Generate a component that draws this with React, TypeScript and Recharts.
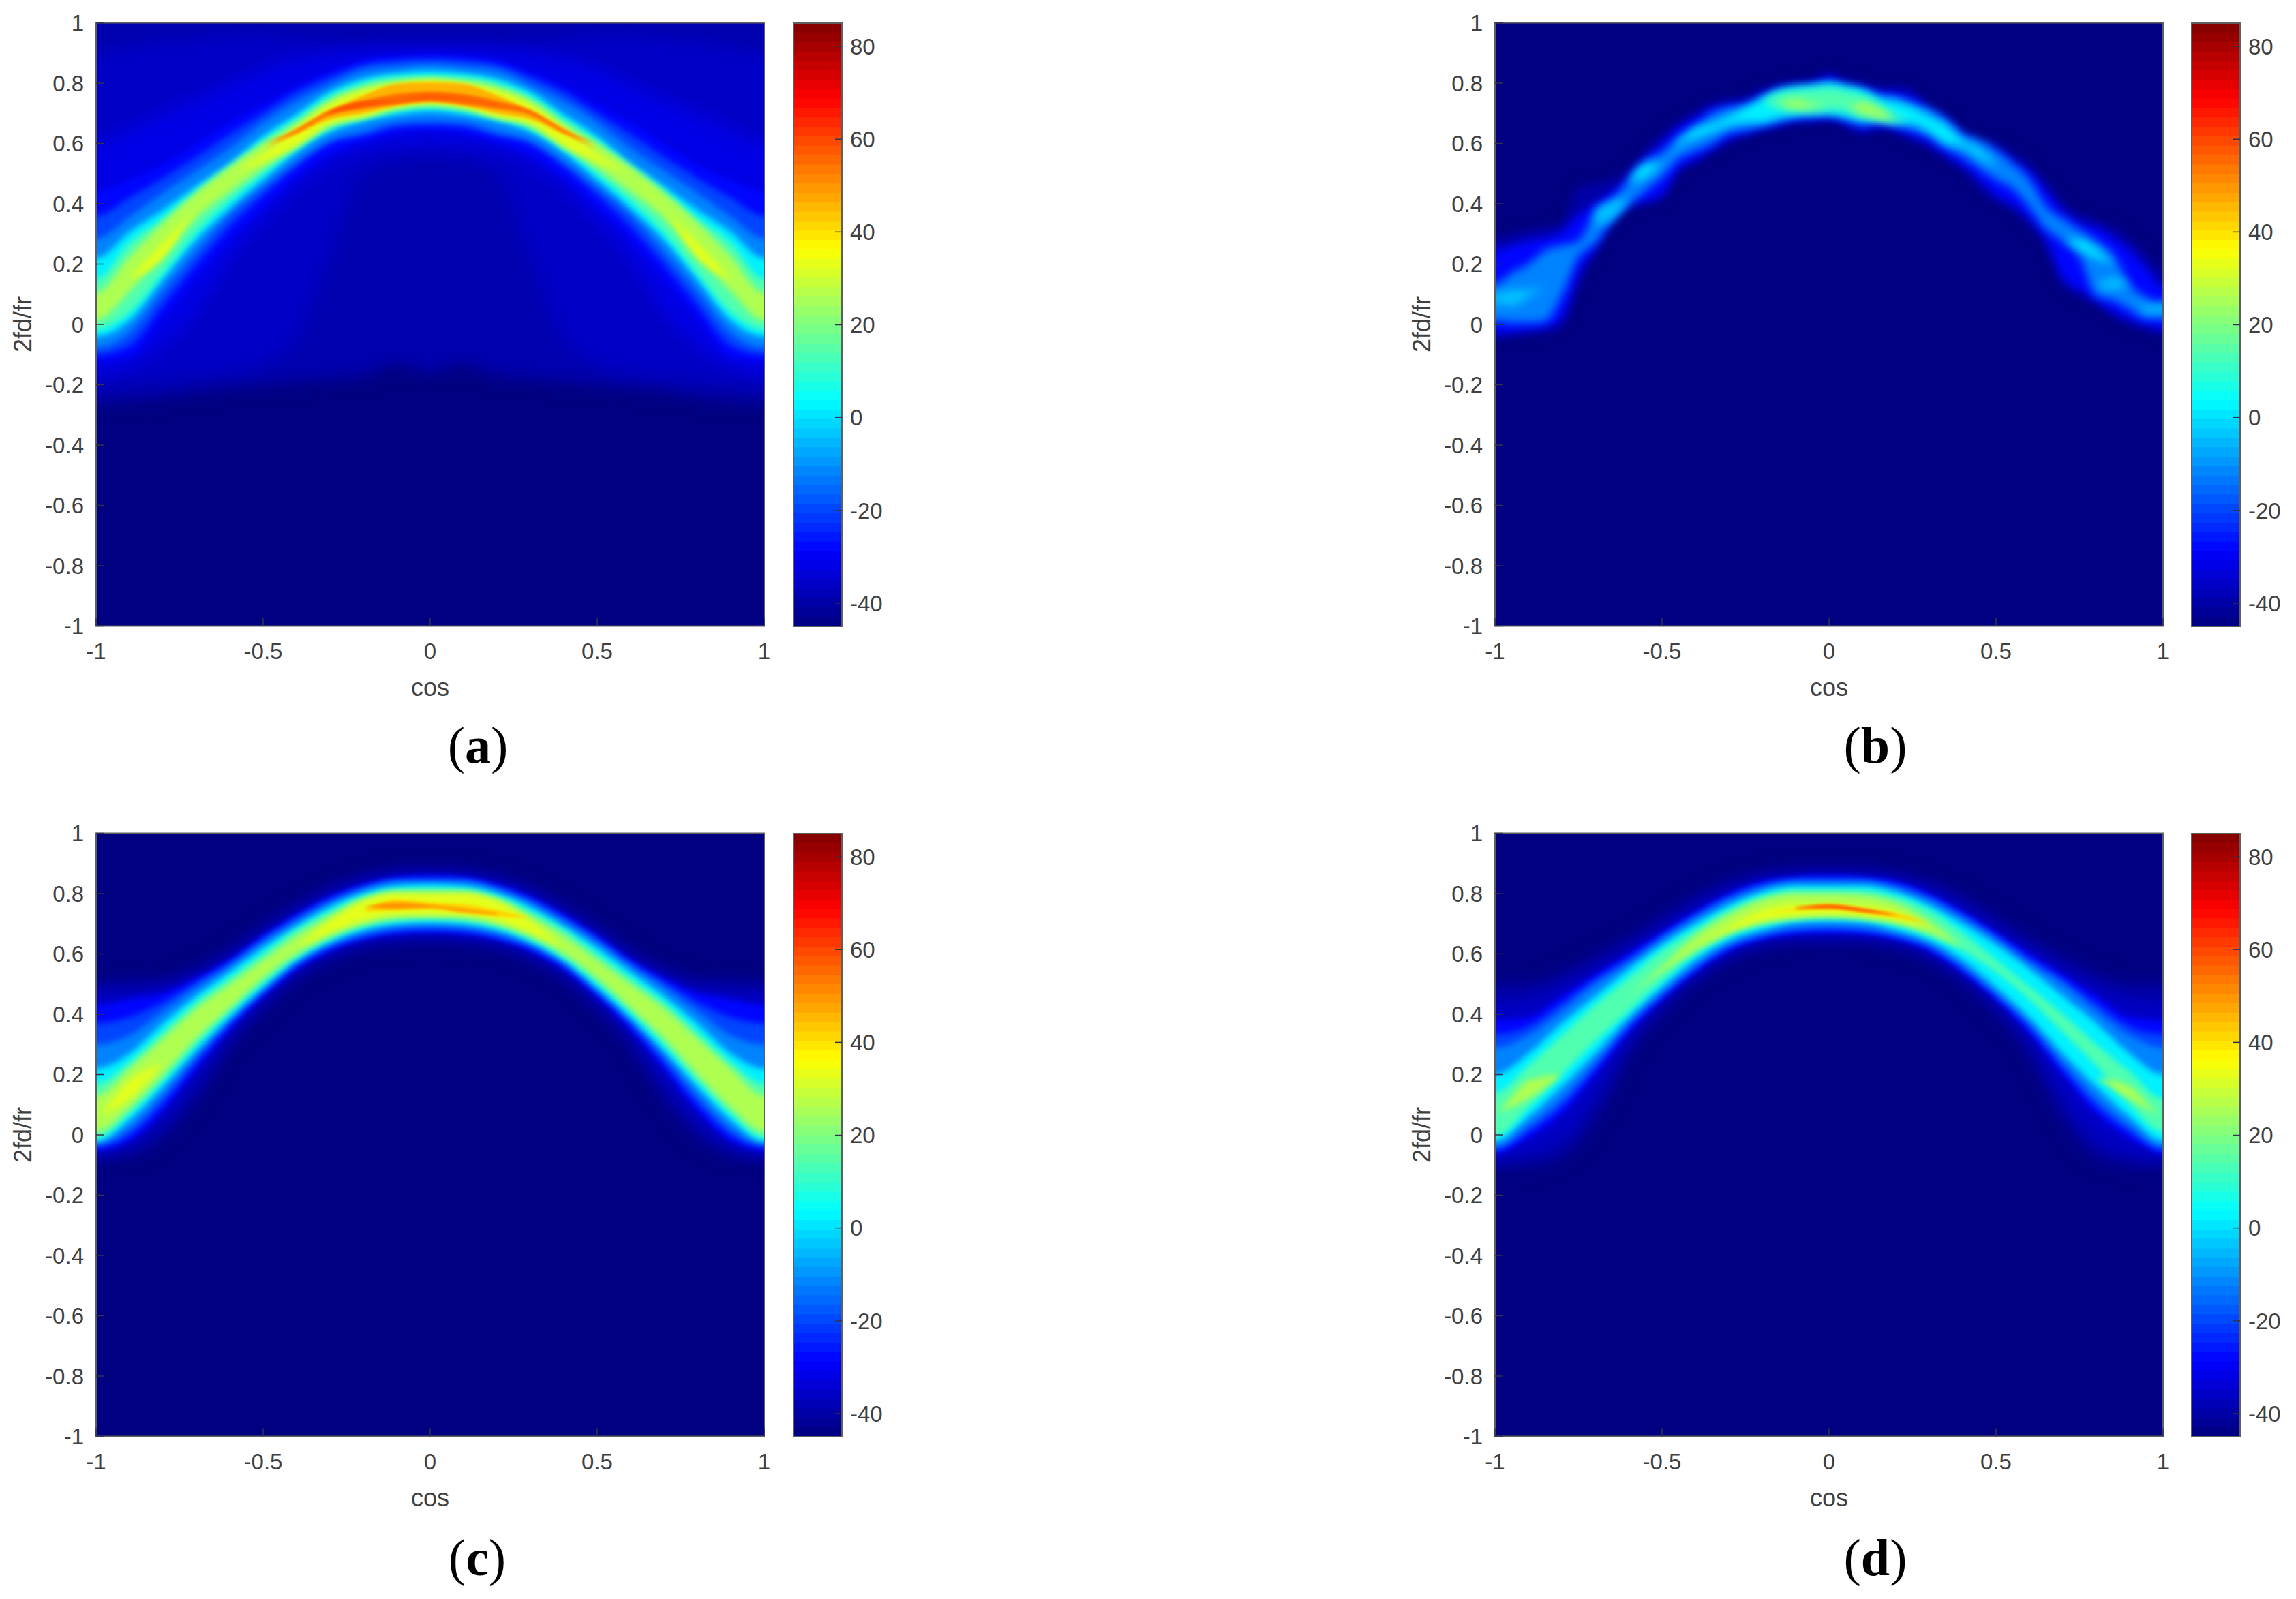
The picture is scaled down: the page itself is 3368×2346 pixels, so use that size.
import React from "react";
import { Area, AreaChart, ReferenceArea, XAxis, YAxis } from "recharts";

const n = null;

const cosTicks = [-1, -0.5, 0, 0.5, 1];
const fdTicks = [-1, -0.8, -0.6, -0.4, -0.2, 0, 0.2, 0.4, 0.6, 0.8, 1];
const barTicks = [-40, -20, 0, 20, 40, 60, 80];

// colorbar steps (64 level jet, -45..85)
const barEdges = [
  -45, -42.97, -40.94, -38.91, -36.88, -34.84, -32.81, -30.78, -28.75, -26.72, -24.69, -22.66, -20.63, -18.59, -16.56,
  -14.53, -12.5, -10.47, -8.44, -6.41, -4.38, -2.34, -0.31, 1.72, 3.75, 5.78, 7.81, 9.84, 11.88, 13.91, 15.94, 17.97,
  20, 22.03, 24.06, 26.09, 28.13, 30.16, 32.19, 34.22, 36.25, 38.28, 40.31, 42.34, 44.38, 46.41, 48.44, 50.47, 52.5,
  54.53, 56.56, 58.59, 60.63, 62.66, 64.69, 66.72, 68.75, 70.78, 72.81, 74.84, 76.88, 78.91, 80.94, 82.97,
];

// cos positions the contours were read at
const cos21 = [-1, -0.9, -0.8, -0.7, -0.6, -0.5, -0.4, -0.3, -0.2, -0.1, 0, 0.1, 0.2, 0.3, 0.4, 0.5, 0.6, 0.7, 0.8, 0.9, 1];
const cos41 = [
  -1, -0.95, -0.9, -0.85, -0.8, -0.75, -0.7, -0.65, -0.6, -0.55, -0.5, -0.45, -0.4, -0.35, -0.3, -0.25, -0.2, -0.15,
  -0.1, -0.05, 0, 0.05, 0.1, 0.15, 0.2, 0.25, 0.3, 0.35, 0.4, 0.45, 0.5, 0.55, 0.6, 0.65, 0.7, 0.75, 0.8, 0.85, 0.9,
  0.95, 1,
];

// panel (a): lower and upper edge of each contour level, in 2fd/fr
const aLo40 = [-0.26, -0.25, -0.24, -0.22, -0.21, -0.2, -0.19, -0.18, -0.17, -0.13, -0.16, -0.13, -0.17, -0.18, -0.19, -0.2, -0.21, -0.22, -0.24, -0.25, -0.26];
const aHi40 = [1.2, 1.2, 1.2, 1.2, 1.2, 1.2, 1.2, 1.2, 1.2, 1.2, 1.2, 1.2, 1.2, 1.2, 1.2, 1.2, 1.2, 1.2, 1.2, 1.2, 1.2];
const aLo36 = [-0.2, -0.19, -0.18, -0.17, -0.16, -0.13, -0.05, 0.22, 0.5, 0.545, 0.556, 0.545, 0.5, 0.22, -0.05, -0.13, -0.16, -0.17, -0.18, -0.19, -0.2];
const aHi36 = [0.9, 0.92, 0.94, 0.95, 0.96, 0.96, 0.95, 0.94, 0.93, 0.93, 0.93, 0.93, 0.93, 0.94, 0.95, 0.96, 0.96, 0.95, 0.94, 0.92, 0.9];
const aLo32 = [-0.16, -0.14, -0.07, 0.04, 0.215, 0.34, 0.45, 0.53, 0.575, 0.595, 0.6, 0.595, 0.575, 0.53, 0.45, 0.34, 0.215, 0.04, -0.07, -0.14, -0.16];
const aHi32 = [0.6, 0.65, 0.7, 0.75, 0.8, 0.85, 0.88, 0.9, 0.91, 0.915, 0.915, 0.915, 0.91, 0.9, 0.88, 0.85, 0.8, 0.75, 0.7, 0.65, 0.6];
const aLo28 = [-0.12, -0.107, 0.025, 0.157, 0.285, 0.39, 0.49, 0.565, 0.605, 0.635, 0.647, 0.635, 0.605, 0.565, 0.49, 0.39, 0.285, 0.157, 0.025, -0.107, -0.12];
const aHi28 = [0.44, 0.48, 0.53, 0.6, 0.67, 0.73, 0.79, 0.835, 0.877, 0.89, 0.896, 0.89, 0.877, 0.835, 0.79, 0.73, 0.67, 0.6, 0.53, 0.48, 0.44];
const aLo20 = [-0.1, -0.07, 0.065, 0.2, 0.325, 0.43, 0.525, 0.6, 0.625, 0.655, 0.66, 0.655, 0.625, 0.6, 0.525, 0.43, 0.325, 0.2, 0.065, -0.07, -0.1];
const aHi20 = [0.36, 0.42, 0.485, 0.555, 0.63, 0.7, 0.77, 0.82, 0.86, 0.875, 0.88, 0.875, 0.86, 0.82, 0.77, 0.7, 0.63, 0.555, 0.485, 0.42, 0.36];
const aLo12 = [-0.077, -0.028, 0.108, 0.24, 0.364, 0.455, 0.54, 0.61, 0.64, 0.67, 0.677, 0.67, 0.64, 0.61, 0.54, 0.455, 0.364, 0.24, 0.108, -0.028, -0.077];
const aHi12 = [0.285, 0.357, 0.436, 0.51, 0.585, 0.67, 0.74, 0.795, 0.843, 0.855, 0.862, 0.855, 0.843, 0.795, 0.74, 0.67, 0.585, 0.51, 0.436, 0.357, 0.285];
const aLoP2 = [-0.04, 0.013, 0.149, 0.281, 0.385, 0.48, 0.572, 0.64, 0.674, 0.696, 0.707, 0.696, 0.674, 0.64, 0.572, 0.48, 0.385, 0.281, 0.149, 0.013, -0.04];
const aHiP2 = [0.22, 0.307, 0.38, 0.459, 0.534, 0.625, 0.696, 0.771, 0.813, 0.832, 0.84, 0.832, 0.813, 0.771, 0.696, 0.625, 0.534, 0.459, 0.38, 0.307, 0.22];
const aLoP14 = [-0.017, 0.04, 0.17, 0.305, 0.41, 0.5, 0.585, 0.65, 0.685, 0.708, 0.72, 0.708, 0.685, 0.65, 0.585, 0.5, 0.41, 0.305, 0.17, 0.04, -0.017];
const aHiP14 = [0.15, 0.27, 0.35, 0.43, 0.51, 0.605, 0.68, 0.755, 0.8, 0.82, 0.822, 0.82, 0.8, 0.755, 0.68, 0.605, 0.51, 0.43, 0.35, 0.27, 0.15];
const aLoP26 = [0.014, 0.11, 0.232, 0.353, 0.44, 0.52, 0.59, 0.66, 0.69, 0.72, 0.728, 0.72, 0.69, 0.66, 0.59, 0.52, 0.44, 0.353, 0.232, 0.11, 0.014];
const aHiP26 = [0.105, 0.225, 0.338, 0.44, 0.525, 0.6, 0.665, 0.74, 0.785, 0.805, 0.815, 0.805, 0.785, 0.74, 0.665, 0.6, 0.525, 0.44, 0.338, 0.225, 0.105];
const aLoP33 = [n, 0.15, 0.22, 0.38, 0.49, 0.54, 0.594, 0.666, 0.688, 0.72, 0.734, 0.72, 0.688, 0.666, 0.594, 0.54, 0.49, 0.38, 0.22, 0.15, n];
const aHiP33 = [n, 0.15, 0.27, 0.38, 0.49, 0.565, 0.65, 0.73, 0.775, 0.798, 0.808, 0.798, 0.775, 0.73, 0.65, 0.565, 0.49, 0.38, 0.27, 0.15, n];
const aLoP46 = [n, n, n, n, n, 0.58, 0.63, 0.68, 0.7, 0.725, 0.737, 0.725, 0.7, 0.68, 0.63, 0.58, n, n, n, n, n];
const aHiP46 = [n, n, n, n, n, 0.58, 0.65, 0.71, 0.76, 0.798, 0.803, 0.798, 0.76, 0.71, 0.65, 0.58, n, n, n, n, n];
const aLoP55 = [n, n, n, n, n, 0.6, 0.637, 0.695, 0.715, 0.73, 0.741, 0.73, 0.715, 0.695, 0.637, 0.6, n, n, n, n, n];
const aHiP55 = [n, n, n, n, n, 0.6, 0.645, 0.71, 0.741, 0.764, 0.772, 0.764, 0.741, 0.71, 0.645, 0.6, n, n, n, n, n];
const aLoP58 = [n, n, n, n, n, n, n, 0.7, 0.722, 0.74, 0.75, 0.745, 0.725, n, n, n, n, n, n, n, n];
const aHiP58 = [n, n, n, n, n, n, n, 0.705, 0.74, 0.745, 0.76, 0.75, 0.73, n, n, n, n, n, n, n, n];

// panel (b)
const bLo40 = [-0.048, -0.04, -0.032, -0.029, -0.01, 0.126, 0.232, 0.33, 0.382, 0.397, 0.416, 0.51, 0.533, 0.57, 0.604, 0.623, 0.642, 0.656, 0.668, 0.672, 0.675, 0.658, 0.632, 0.646, 0.635, 0.609, 0.586, 0.544, 0.51, 0.45, 0.405, 0.382, 0.33, 0.254, 0.126, 0.096, 0.066, 0.028, -0.002, -0.017, -0.032];
const bHi40 = [0.292, 0.3, 0.314, 0.322, 0.337, 0.457, 0.469, 0.48, 0.518, 0.574, 0.63, 0.672, 0.7, 0.737, 0.745, 0.752, 0.782, 0.8, 0.808, 0.812, 0.84, 0.815, 0.804, 0.79, 0.793, 0.782, 0.725, 0.695, 0.646, 0.616, 0.605, 0.57, 0.533, 0.473, 0.405, 0.367, 0.345, 0.322, 0.284, 0.232, 0.171];
const bLo28 = [-0.029, -0.025, -0.017, -0.01, 0.02, 0.171, 0.254, 0.352, 0.4, 0.41, 0.431, 0.518, 0.549, 0.585, 0.616, 0.635, 0.652, 0.664, 0.676, 0.68, 0.683, 0.669, 0.647, 0.658, 0.647, 0.624, 0.601, 0.563, 0.529, 0.48, 0.428, 0.397, 0.352, 0.284, 0.156, 0.115, 0.081, 0.043, 0.017, -0.002, -0.014];
const bHi28 = [0.246, 0.262, 0.277, 0.288, 0.307, 0.363, 0.4, 0.44, 0.48, 0.55, 0.6, 0.654, 0.687, 0.717, 0.729, 0.737, 0.763, 0.782, 0.79, 0.798, 0.82, 0.793, 0.786, 0.771, 0.767, 0.755, 0.71, 0.677, 0.627, 0.597, 0.578, 0.54, 0.505, 0.443, 0.375, 0.337, 0.322, 0.288, 0.247, 0.186, 0.126];
const bLo12 = [0.013, 0.005, 0.005, 0.01, 0.096, 0.224, 0.27, 0.345, 0.397, 0.443, 0.49, 0.55, 0.575, 0.6, 0.635, 0.645, 0.66, 0.675, 0.687, 0.69, 0.695, 0.68, 0.661, 0.67, 0.66, 0.646, 0.623, 0.586, 0.556, 0.518, 0.48, 0.45, 0.39, 0.315, 0.277, 0.224, 0.096, 0.08, 0.05, 0.02, 0.02];
const bHi12 = [0.133, 0.171, 0.2, 0.246, 0.262, 0.277, 0.37, 0.41, 0.478, 0.54, 0.57, 0.617, 0.655, 0.7, 0.72, 0.725, 0.747, 0.775, 0.787, 0.79, 0.8, 0.786, 0.774, 0.759, 0.752, 0.733, 0.714, 0.68, 0.631, 0.612, 0.578, 0.533, 0.48, 0.39, 0.35, 0.314, 0.277, 0.232, 0.133, 0.088, 0.073];
const bLoM4 = [0.07, 0.06, 0.09, 0.12, n, n, 0.33, 0.35, 0.42, n, n, n, n, n, n, n, n, n, n, n, n, n, n, n, n, n, n, n, n, n, n, n, n, n, n, n, 0.13, 0.115, 0.13, 0.04, 0.04];
const bHiM4 = [0.1, 0.115, 0.115, 0.12, n, n, 0.38, 0.41, 0.42, n, n, n, n, n, n, n, n, n, n, n, n, n, n, n, n, n, n, n, n, n, n, n, n, n, n, n, 0.13, 0.155, 0.13, 0.06, 0.065];
const bLoP2 = [n, n, n, n, n, n, n, n, 0.47, 0.49, 0.535, 0.595, 0.62, 0.64, 0.66, 0.67, 0.67, 0.685, 0.695, 0.7, 0.7, 0.69, 0.68, 0.68, 0.67, 0.665, 0.64, 0.6, 0.59, 0.555, 0.525, n, n, n, 0.28, 0.25, 0.22, 0.2, n, n, n];
const bHiP2 = [n, n, n, n, n, n, n, n, 0.47, 0.53, 0.535, 0.61, 0.65, 0.665, 0.69, 0.72, 0.75, 0.775, 0.785, 0.79, 0.8, 0.79, 0.78, 0.75, 0.74, 0.72, 0.69, 0.66, 0.61, 0.58, 0.53, n, n, n, 0.28, 0.28, 0.25, 0.2, n, n, n];
const bLoP14 = [n, n, n, n, n, n, n, n, n, n, n, n, n, n, n, n, 0.74, 0.715, 0.71, 0.71, 0.712, 0.71, 0.69, 0.68, 0.672, 0.68, n, n, n, n, n, n, n, n, n, n, n, n, n, n, n];
const bHiP14 = [n, n, n, n, n, n, n, n, n, n, n, n, n, n, n, n, 0.74, 0.765, 0.775, 0.78, 0.785, 0.775, 0.76, 0.73, 0.69, 0.68, n, n, n, n, n, n, n, n, n, n, n, n, n, n, n];
const bLoP26 = [n, n, n, n, n, n, n, n, n, n, n, n, n, n, n, n, n, 0.735, 0.715, 0.715, 0.72, 0.715, 0.7, 0.685, 0.68, n, n, n, n, n, n, n, n, n, n, n, n, n, n, n, n];
const bHiP26 = [n, n, n, n, n, n, n, n, n, n, n, n, n, n, n, n, n, 0.735, 0.745, 0.73, 0.72, 0.715, 0.735, 0.715, 0.68, n, n, n, n, n, n, n, n, n, n, n, n, n, n, n, n];

// panel (c)
const cLo40 = [-0.075, -0.06, 0, 0.13, 0.31, 0.43, 0.53, 0.59, 0.625, 0.64, 0.645, 0.64, 0.625, 0.59, 0.53, 0.43, 0.31, 0.13, 0, -0.06, -0.075];
const cHi40 = [0.5, 0.505, 0.51, 0.54, 0.6, 0.68, 0.75, 0.81, 0.85, 0.87, 0.875, 0.87, 0.85, 0.81, 0.75, 0.68, 0.6, 0.54, 0.51, 0.505, 0.5];
const cLo36 = [-0.065, -0.04, 0.04, 0.17, 0.33, 0.445, 0.54, 0.6, 0.64, 0.655, 0.66, 0.655, 0.64, 0.6, 0.54, 0.445, 0.33, 0.17, 0.04, -0.04, -0.065];
const cHi36 = [0.47, 0.48, 0.49, 0.53, 0.59, 0.67, 0.74, 0.8, 0.84, 0.86, 0.865, 0.86, 0.84, 0.8, 0.74, 0.67, 0.59, 0.53, 0.49, 0.48, 0.47];
const cLo28 = [-0.05, -0.02, 0.08, 0.22, 0.35, 0.46, 0.55, 0.61, 0.65, 0.665, 0.67, 0.665, 0.65, 0.61, 0.55, 0.46, 0.35, 0.22, 0.08, -0.02, -0.05];
const cHi28 = [0.43, 0.45, 0.47, 0.52, 0.58, 0.66, 0.73, 0.79, 0.83, 0.855, 0.86, 0.855, 0.83, 0.79, 0.73, 0.66, 0.58, 0.52, 0.47, 0.45, 0.43];
const cLo20 = [-0.04, 0, 0.105, 0.24, 0.365, 0.47, 0.56, 0.62, 0.655, 0.675, 0.68, 0.675, 0.655, 0.62, 0.56, 0.47, 0.365, 0.24, 0.105, 0, -0.04];
const cHi20 = [0.37, 0.39, 0.44, 0.505, 0.57, 0.65, 0.72, 0.78, 0.82, 0.845, 0.85, 0.845, 0.82, 0.78, 0.72, 0.65, 0.57, 0.505, 0.44, 0.39, 0.37];
const cLo12 = [-0.03, 0.02, 0.13, 0.26, 0.38, 0.48, 0.57, 0.63, 0.665, 0.685, 0.69, 0.685, 0.665, 0.63, 0.57, 0.48, 0.38, 0.26, 0.13, 0.02, -0.03];
const cHi12 = [0.3, 0.33, 0.41, 0.49, 0.56, 0.64, 0.71, 0.77, 0.815, 0.84, 0.84, 0.84, 0.815, 0.77, 0.71, 0.64, 0.56, 0.49, 0.41, 0.33, 0.3];
const cLoP2 = [-0.02, 0.05, 0.16, 0.28, 0.39, 0.49, 0.58, 0.64, 0.68, 0.7, 0.705, 0.7, 0.68, 0.64, 0.58, 0.49, 0.39, 0.28, 0.16, 0.05, -0.02];
const cHiP2 = [0.22, 0.27, 0.37, 0.46, 0.54, 0.62, 0.69, 0.755, 0.8, 0.825, 0.83, 0.825, 0.8, 0.755, 0.69, 0.62, 0.54, 0.46, 0.37, 0.27, 0.22];
const cLoP14 = [-0.01, 0.07, 0.18, 0.3, 0.41, 0.505, 0.59, 0.65, 0.69, 0.71, 0.715, 0.71, 0.69, 0.65, 0.59, 0.505, 0.41, 0.3, 0.18, 0.07, -0.01];
const cHiP14 = [0.17, 0.24, 0.34, 0.44, 0.52, 0.6, 0.68, 0.74, 0.79, 0.81, 0.815, 0.81, 0.79, 0.74, 0.68, 0.6, 0.52, 0.44, 0.34, 0.24, 0.17];
const cLoP26 = [0.01, 0.09, 0.2, 0.32, 0.42, 0.52, 0.6, 0.66, 0.7, 0.72, 0.725, 0.72, 0.7, 0.66, 0.6, 0.52, 0.42, 0.32, 0.2, 0.09, 0.01];
const cHiP26 = [0.13, 0.22, 0.32, 0.42, 0.5, 0.58, 0.66, 0.725, 0.78, 0.805, 0.805, 0.805, 0.78, 0.725, 0.66, 0.58, 0.5, 0.42, 0.32, 0.22, 0.13];
const cLoP33 = [0.07, 0.12, 0.24, n, n, n, 0.62, 0.67, 0.71, 0.73, 0.73, 0.73, 0.71, 0.67, 0.62, n, n, n, n, n, n];
const cHiP33 = [0.07, 0.18, 0.24, n, n, n, 0.62, 0.71, 0.775, 0.8, 0.8, 0.8, 0.775, 0.71, 0.62, n, n, n, n, n, n];
const cLoP42 = [n, n, n, n, n, n, n, n, 0.74, 0.745, 0.75, 0.735, 0.725, 0.72, n, n, n, n, n, n, n];
const cHiP42 = [n, n, n, n, n, n, n, n, 0.74, 0.78, 0.77, 0.765, 0.745, 0.72, n, n, n, n, n, n, n];
const cLoP50 = [n, n, n, n, n, n, n, n, 0.755, 0.75, 0.753, 0.74, 0.73, n, n, n, n, n, n, n, n];
const cHiP50 = [n, n, n, n, n, n, n, n, 0.755, 0.77, 0.762, 0.75, 0.735, n, n, n, n, n, n, n, n];

// panel (d)
const dLo40 = [-0.1, -0.1, -0.07, 0.06, 0.28, 0.42, 0.52, 0.59, 0.63, 0.645, 0.645, 0.645, 0.63, 0.59, 0.52, 0.42, 0.28, 0.06, -0.07, -0.1, -0.1];
const dHi40 = [0.5, 0.5, 0.53, 0.58, 0.64, 0.71, 0.78, 0.83, 0.86, 0.87, 0.875, 0.87, 0.86, 0.83, 0.78, 0.71, 0.64, 0.58, 0.53, 0.5, 0.5];
const dLo36 = [-0.085, -0.065, -0.02, 0.12, 0.31, 0.435, 0.53, 0.6, 0.64, 0.655, 0.655, 0.655, 0.64, 0.6, 0.53, 0.435, 0.31, 0.12, -0.02, -0.065, -0.085];
const dHi36 = [0.44, 0.45, 0.495, 0.555, 0.62, 0.69, 0.76, 0.815, 0.85, 0.862, 0.867, 0.862, 0.85, 0.815, 0.76, 0.69, 0.62, 0.555, 0.495, 0.45, 0.44];
const dLo28 = [-0.06, -0.01, 0.07, 0.2, 0.34, 0.45, 0.54, 0.61, 0.65, 0.665, 0.67, 0.665, 0.65, 0.61, 0.54, 0.45, 0.34, 0.2, 0.07, -0.01, -0.06];
const dHi28 = [0.38, 0.39, 0.46, 0.53, 0.6, 0.67, 0.74, 0.8, 0.84, 0.855, 0.86, 0.855, 0.84, 0.8, 0.74, 0.67, 0.6, 0.53, 0.46, 0.39, 0.38];
const dLo20 = [-0.05, 0.01, 0.095, 0.22, 0.355, 0.46, 0.55, 0.62, 0.657, 0.675, 0.68, 0.675, 0.657, 0.62, 0.55, 0.46, 0.355, 0.22, 0.095, 0.01, -0.05];
const dHi20 = [0.335, 0.36, 0.435, 0.515, 0.585, 0.66, 0.73, 0.79, 0.83, 0.847, 0.85, 0.847, 0.83, 0.79, 0.73, 0.66, 0.585, 0.515, 0.435, 0.36, 0.335];
const dLo12 = [-0.04, 0.03, 0.12, 0.24, 0.37, 0.47, 0.56, 0.63, 0.665, 0.685, 0.69, 0.685, 0.665, 0.63, 0.56, 0.47, 0.37, 0.24, 0.12, 0.03, -0.04];
const dHi12 = [0.29, 0.33, 0.41, 0.5, 0.57, 0.65, 0.72, 0.78, 0.82, 0.84, 0.84, 0.84, 0.82, 0.78, 0.72, 0.65, 0.57, 0.5, 0.41, 0.33, 0.29];
const dLoP2 = [-0.02, 0.06, 0.16, 0.27, 0.39, 0.49, 0.58, 0.645, 0.68, 0.705, 0.71, 0.705, 0.68, 0.645, 0.58, 0.49, 0.39, 0.27, 0.16, 0.06, -0.02];
const dHiP2 = [0.2, 0.27, 0.37, 0.46, 0.55, 0.63, 0.7, 0.76, 0.805, 0.825, 0.825, 0.825, 0.805, 0.76, 0.7, 0.63, 0.55, 0.46, 0.37, 0.27, 0.2];
const dLoP14 = [-0.005, 0.09, 0.2, 0.31, 0.41, 0.51, 0.6, 0.66, 0.695, 0.715, 0.72, 0.715, 0.695, 0.66, 0.61, 0.54, 0.45, 0.34, 0.23, 0.1, 0.01];
const dHiP14 = [0.14, 0.23, 0.33, 0.43, 0.52, 0.61, 0.68, 0.745, 0.79, 0.81, 0.81, 0.81, 0.79, 0.745, 0.67, 0.58, 0.49, 0.4, 0.3, 0.21, 0.12];
const dLoP26 = [0.08, 0.12, 0.2, n, 0.46, 0.54, 0.61, 0.67, 0.705, 0.72, 0.725, 0.72, 0.705, 0.67, 0.62, n, n, n, 0.19, 0.12, 0.07];
const dHiP26 = [0.08, 0.18, 0.2, n, 0.46, 0.56, 0.66, 0.73, 0.78, 0.8, 0.8, 0.795, 0.77, 0.71, 0.62, n, n, n, 0.19, 0.16, 0.07];
const dLoP33 = [n, n, n, n, n, n, 0.62, 0.675, 0.71, 0.725, 0.73, 0.725, 0.71, 0.68, n, n, n, n, n, n, n];
const dHiP33 = [n, n, n, n, n, n, 0.62, 0.69, 0.745, 0.765, 0.765, 0.76, 0.74, 0.68, n, n, n, n, n, n, n];
const dLoP42 = [n, n, n, n, n, n, n, n, 0.735, 0.745, 0.748, 0.735, 0.72, 0.7, n, n, n, n, n, n, n];
const dHiP42 = [n, n, n, n, n, n, n, n, 0.735, 0.75, 0.765, 0.75, 0.735, 0.7, n, n, n, n, n, n, n];
const dLoP52 = [n, n, n, n, n, n, n, n, n, 0.75, 0.752, 0.74, 0.728, n, n, n, n, n, n, n, n];
const dHiP52 = [n, n, n, n, n, n, n, n, n, 0.755, 0.762, 0.75, 0.73, n, n, n, n, n, n, n, n];
const dLoP62 = [n, n, n, n, n, n, n, n, n, 0.752, 0.754, 0.743, 0.73, n, n, n, n, n, n, n, n];
const dHiP62 = [n, n, n, n, n, n, n, n, n, 0.752, 0.76, 0.748, 0.73, n, n, n, n, n, n, n, n];

type Level = [number, (number | null)[], (number | null)[]];

const levelsA: Level[] = [
  [-39, aLo40, aHi40], [-36, aLo36, aHi36], [-32, aLo32, aHi32], [-28, aLo28, aHi28], [-20, aLo20, aHi20],
  [-12, aLo12, aHi12], [2, aLoP2, aHiP2], [14, aLoP14, aHiP14], [26, aLoP26, aHiP26], [33, aLoP33, aHiP33],
  [46, aLoP46, aHiP46], [55, aLoP55, aHiP55], [58, aLoP58, aHiP58],
];
const levelsB: Level[] = [
  [-40, bLo40, bHi40], [-28, bLo28, bHi28], [-12, bLo12, bHi12], [-4, bLoM4, bHiM4], [2, bLoP2, bHiP2], [14, bLoP14, bHiP14],
  [26, bLoP26, bHiP26],
];
const levelsC: Level[] = [
  [-40, cLo40, cHi40], [-36, cLo36, cHi36], [-28, cLo28, cHi28], [-20, cLo20, cHi20], [-12, cLo12, cHi12],
  [2, cLoP2, cHiP2], [14, cLoP14, cHiP14], [26, cLoP26, cHiP26], [33, cLoP33, cHiP33], [42, cLoP42, cHiP42],
  [50, cLoP50, cHiP50],
];
const levelsD: Level[] = [
  [-40, dLo40, dHi40], [-36, dLo36, dHi36], [-28, dLo28, dHi28], [-20, dLo20, dHi20], [-12, dLo12, dHi12],
  [2, dLoP2, dHiP2], [14, dLoP14, dHiP14], [26, dLoP26, dHiP26], [33, dLoP33, dHiP33], [42, dLoP42, dHiP42],
  [52, dLoP52, dHiP52], [62, dLoP62, dHiP62],
];

const TEXT = "#404040";
const FRAME = "#5f5f5f";
const TICK_LINE = "#33334d";
const axisFont = { fontSize: 33, fontFamily: "Liberation Sans", fill: TEXT };
const titleFont = { fontSize: 36, fontFamily: "Liberation Sans", fill: TEXT };

// matlab jet over the colorbar range
function jet(v: number) {
  const t = (v + 45) / 130;
  const part = (c: number) => Math.round(255 * Math.max(0, Math.min(1, 1.5 - Math.abs(4 * t - c))));
  return `rgb(${part(3)},${part(2)},${part(1)})`;
}

function buildRows(xs: number[], levels: Level[]) {
  const rows = xs.map((x, i) => {
    const row: any = { x };
    levels.forEach((lv, k) => {
      row[`l${k}`] = lv[1][i] == null ? null : [lv[1][i], lv[2][i]];
    });
    return row;
  });
  // edge columns repeat just past the frame so the blur doesn't fade at +-1
  return [{ ...rows[0], x: xs[0] - 0.15 }, ...rows, { ...rows[rows.length - 1], x: xs[xs.length - 1] + 0.15 }];
}

function contourClass(value: number, soft: boolean) {
  if (value >= 42) return "contour fine";
  if (soft) return "contour soft";
  return value <= -32 ? "contour deep" : "contour";
}

function Panel({ xs, levels, left, top, soft = false }: { xs: number[]; levels: Level[]; left: number; top: number; soft?: boolean }) {
  return (
    <div style={{ position: "absolute", left, top }}>
      <AreaChart width={1151} height={1058.5} data={buildRows(xs, levels)} margin={{ left: 0, right: 30, top: 33.5, bottom: 40 }}>
        {levels.map((lv, k) => (
          <Area
            key={k}
            className={contourClass(lv[0], soft)}
            dataKey={`l${k}`}
            type="monotone"
            stroke="none"
            fill={jet(lv[0])}
            fillOpacity={1}
            dot={false}
            activeDot={false}
            connectNulls={false}
            isAnimationActive={false}
          />
        ))}
        <ReferenceArea x1={-1} x2={1} y1={-1} y2={1} fill="none" stroke={FRAME} strokeWidth={2} ifOverflow="visible" />
        <XAxis
          dataKey="x"
          type="number"
          domain={[-1, 1]}
          ticks={cosTicks}
          interval={0}
          allowDataOverflow
          height={100}
          axisLine={false}
          tickSize={-12}
          tickMargin={37}
          tickLine={{ stroke: TICK_LINE, strokeWidth: 1.5 }}
          tick={axisFont}
          label={{ value: "cos", position: "center", dy: 40, style: titleFont }}
        />
        <XAxis
          xAxisId="top"
          orientation="top"
          type="number"
          domain={[-1, 1]}
          ticks={cosTicks}
          interval={0}
          height={0}
          axisLine={false}
          tickSize={-12}
          tickLine={{ stroke: TICK_LINE, strokeWidth: 1.5 }}
          tickFormatter={() => ""}
        />
        <YAxis
          type="number"
          domain={[-1, 1]}
          ticks={fdTicks}
          interval={0}
          allowDataOverflow
          width={141}
          axisLine={false}
          tickSize={-12}
          tickMargin={30}
          tickLine={{ stroke: TICK_LINE, strokeWidth: 1.5 }}
          tick={axisFont}
          label={{ value: "2fd/fr", angle: -90, position: "center", dx: -37, style: titleFont }}
        />
        <YAxis
          yAxisId="right"
          orientation="right"
          type="number"
          domain={[-1, 1]}
          ticks={fdTicks}
          interval={0}
          width={0}
          axisLine={false}
          tickSize={-12}
          tickLine={{ stroke: TICK_LINE, strokeWidth: 1.5 }}
          tickFormatter={() => ""}
        />
      </AreaChart>
    </div>
  );
}

const barRows = [
  { x: 0, ...Object.fromEntries(barEdges.map((e, i) => [`s${i}`, [e, 85]])) },
  { x: 1, ...Object.fromEntries(barEdges.map((e, i) => [`s${i}`, [e, 85]])) },
];

function ColorBar({ left, top }: { left: number; top: number }) {
  return (
    <div style={{ position: "absolute", left, top }}>
      <AreaChart width={152} height={895} data={barRows} margin={{ left: 0, right: 0, top: 5, bottom: 5 }}>
        {barEdges.map((e, i) => (
          <Area
            key={i}
            dataKey={`s${i}`}
            type="linear"
            stroke="none"
            fill={jet(e + 1)}
            fillOpacity={1}
            dot={false}
            activeDot={false}
            isAnimationActive={false}
          />
        ))}
        <ReferenceArea x1={0} x2={1} y1={-45} y2={85} fill="none" stroke={FRAME} strokeWidth={2} ifOverflow="visible" />
        <XAxis dataKey="x" type="number" domain={[0, 1]} hide height={0} />
        <YAxis
          orientation="right"
          type="number"
          domain={[-45, 85]}
          ticks={barTicks}
          interval={0}
          width={80}
          axisLine={false}
          tickSize={-10}
          tickMargin={22}
          tickLine={{ stroke: TICK_LINE, strokeWidth: 1.5 }}
          tick={axisFont}
        />
      </AreaChart>
    </div>
  );
}

function Caption({ letter, x, y }: { letter: string; x: number; y: number }) {
  return (
    <div
      style={{
        position: "absolute",
        left: x - 100,
        top: y - 50,
        width: 200,
        height: 100,
        lineHeight: "100px",
        textAlign: "center",
        fontFamily: "Liberation Serif",
        fontSize: 76,
        color: "#000",
      }}
    >
      (<b>{letter}</b>)
    </div>
  );
}

export default function App() {
  return (
    <div style={{ position: "absolute", left: 0, top: 0, width: 3368, height: 2346, background: "#fff", overflow: "hidden" }}>
      <style>{`
        .contour .recharts-area-area { filter: blur(5px); }
        .contour.deep .recharts-area-area { filter: blur(12px); }
        .contour.soft .recharts-area-area { filter: blur(7px); }
        .contour.fine .recharts-area-area { filter: blur(2px); }
      `}</style>
      <div style={{ position: "absolute", left: 141, top: 33.5, width: 980, height: 885, background: jet(-45) }} />
      <div style={{ position: "absolute", left: 2193, top: 33.5, width: 980, height: 885, background: jet(-45) }} />
      <div style={{ position: "absolute", left: 141, top: 1222.5, width: 980, height: 885, background: jet(-45) }} />
      <div style={{ position: "absolute", left: 2193, top: 1222.5, width: 980, height: 885, background: jet(-45) }} />
      <Panel xs={cos21} levels={levelsA} left={0} top={0} />
      <Panel xs={cos41} levels={levelsB} left={2052} top={0} soft />
      <Panel xs={cos21} levels={levelsC} left={0} top={1189} />
      <Panel xs={cos21} levels={levelsD} left={2052} top={1189} />
      <ColorBar left={1163} top={28.5} />
      <ColorBar left={3214} top={28.5} />
      <ColorBar left={1163} top={1217.5} />
      <ColorBar left={3214} top={1217.5} />
      <Caption letter="a" x={701} y={1092.5} />
      <Caption letter="b" x={2751} y={1092.5} />
      <Caption letter="c" x={700} y={2285} />
      <Caption letter="d" x={2751} y={2285} />
    </div>
  );
}
